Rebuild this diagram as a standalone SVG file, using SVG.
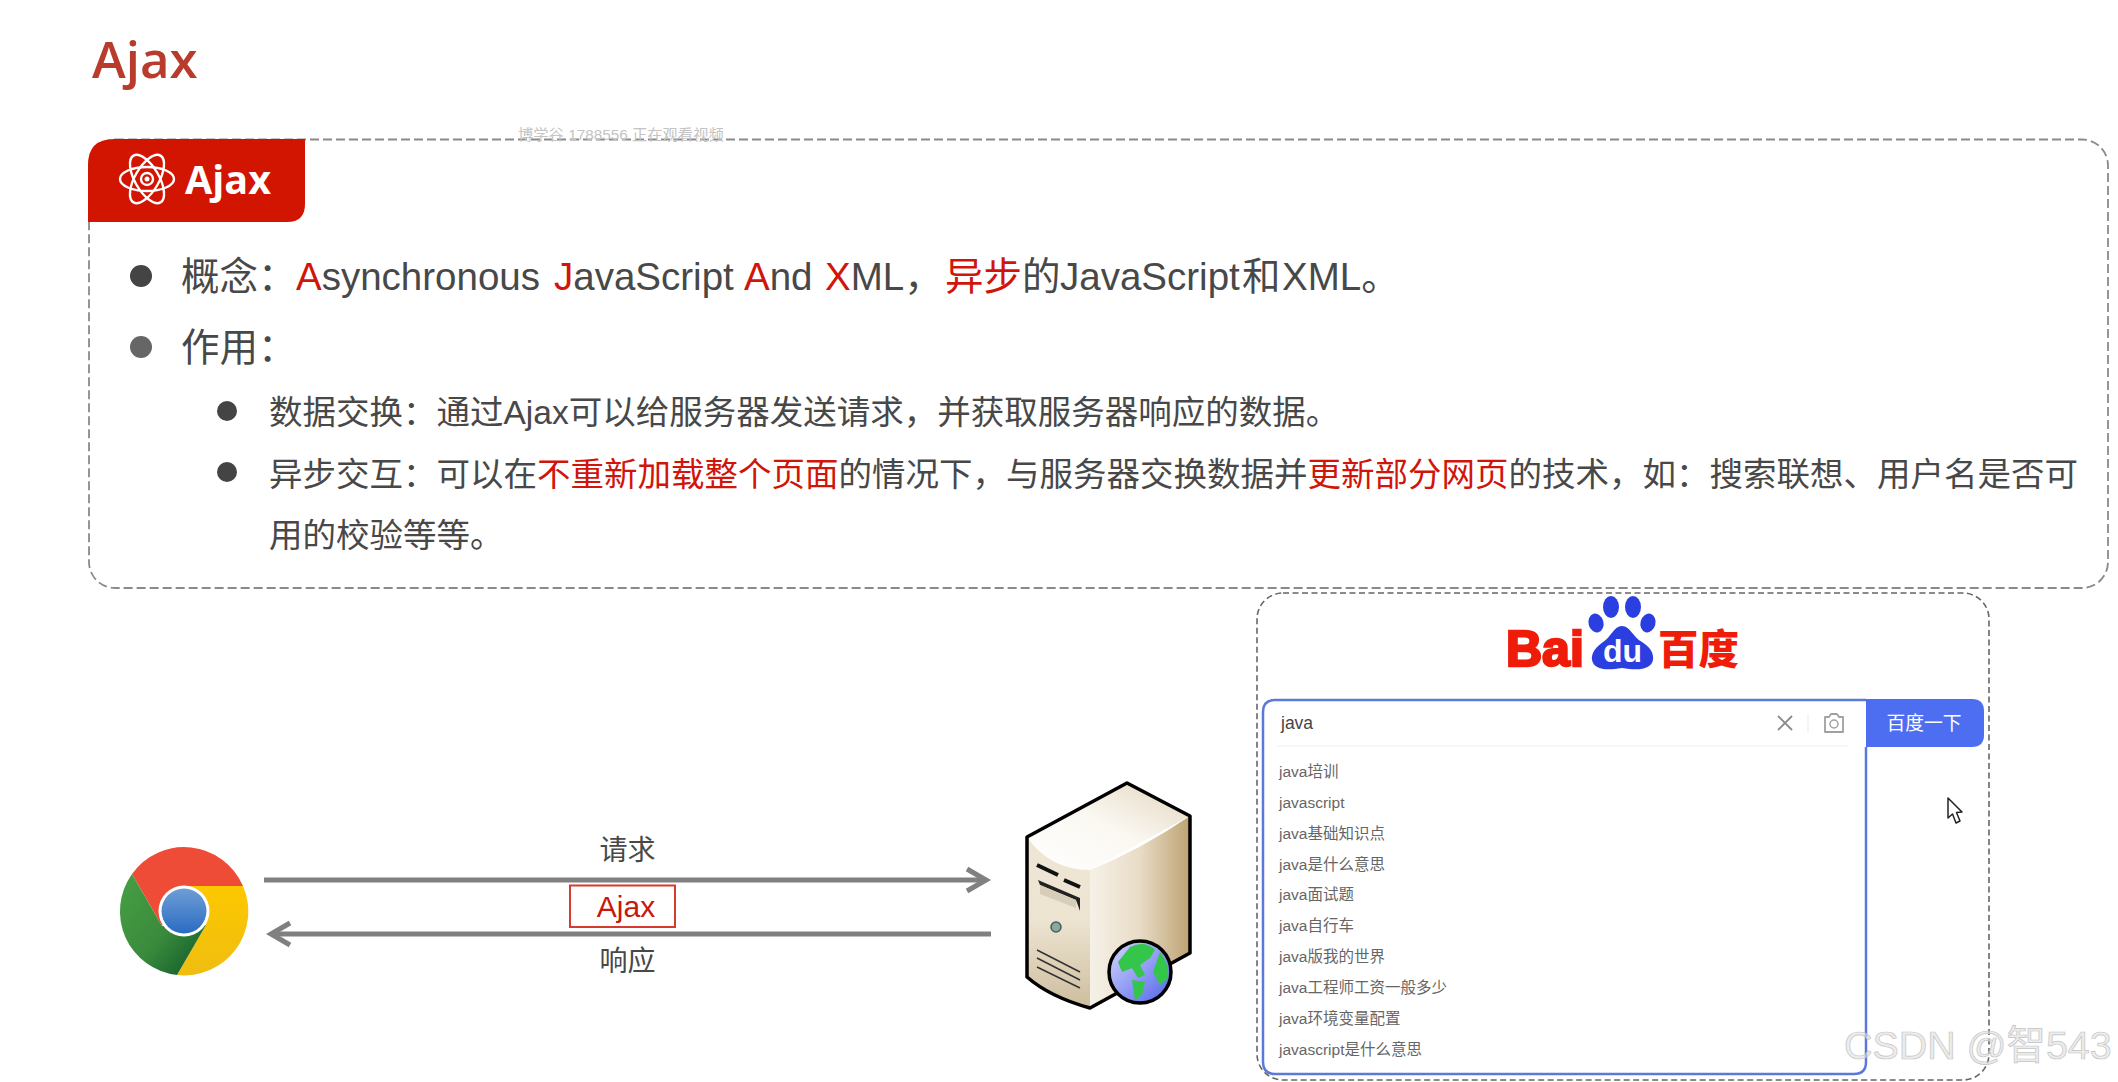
<svg xmlns="http://www.w3.org/2000/svg" width="2118" height="1082" viewBox="0 0 2118 1082">
<style>
text{font-family:"Liberation Sans","Noto Sans CJK SC",sans-serif}
.t1{font-size:38.500px;fill:#484848}
.t2{font-size:33.500px;fill:#484848}
.r{fill:#d0150a}
.li{font-size:15.500px;fill:#666}
.lbl{font-size:28px;fill:#484848;text-anchor:middle}
.ar{fill:none;stroke:#808080;stroke-width:5}
.vent{fill:none;stroke:#333;stroke-width:1.500}
.atom{fill:none;stroke:#fff;stroke-width:2.400}
.toe{fill:#2b3fe0}
</style>
<defs>
<marker id="head" markerUnits="userSpaceOnUse" markerWidth="30" markerHeight="30" refX="24" refY="15" orient="auto-start-reverse">
<polyline points="5,4 24,15 5,26" fill="none" stroke="#808080" stroke-width="5"/>
</marker>
<linearGradient id="gTop" x1="0" y1="1" x2="1" y2="0"><stop offset="0" stop-color="#fff"/><stop offset=".5" stop-color="#fbf8f2"/><stop offset="1" stop-color="#e2d5bd"/></linearGradient>
<linearGradient id="gLeft" x1="0" y1="0" x2="0" y2="1"><stop offset="0" stop-color="#efe6d6"/><stop offset=".5" stop-color="#ece3d0"/><stop offset="1" stop-color="#cdbd9e"/></linearGradient>
<linearGradient id="gRight" x1="0" y1="0" x2="1" y2="0"><stop offset="0" stop-color="#f6f1e8"/><stop offset=".5" stop-color="#e8dcc6"/><stop offset="1" stop-color="#bda272"/></linearGradient>
<linearGradient id="gGreen" x1="0" y1="0" x2="1" y2="1"><stop offset="0" stop-color="#47a044"/><stop offset=".55" stop-color="#3a8a3c"/><stop offset="1" stop-color="#0b5528"/></linearGradient>
<linearGradient id="gYellow" x1="0" y1="0" x2="0" y2="1"><stop offset="0" stop-color="#fdc800"/><stop offset="1" stop-color="#efbd10"/></linearGradient>
<linearGradient id="gBlue" x1="0" y1="0" x2="0" y2="1"><stop offset="0" stop-color="#6f9dd6"/><stop offset="1" stop-color="#2a6cc2"/></linearGradient>
<linearGradient id="gGlobe" x1="0" y1="0" x2="1" y2="1"><stop offset="0" stop-color="#d8d8ff"/><stop offset="1" stop-color="#4f63e8"/></linearGradient>
</defs>
<rect width="2118" height="1082" fill="#fff"/>

<g id="title"><text x="92" y="78" font-size="51" font-weight="600" style="font-family:'Open Sans',sans-serif" fill="#b83b2c">Ajax</text></g>

<g id="panel">
<rect x="89" y="139.500" width="2019" height="448.500" rx="26" fill="none" stroke="#8a8a8a" stroke-width="1.800" stroke-dasharray="9 4"/>
<text x="518" y="140" font-size="15.300" fill="#c4c4c4">博学谷 1788556 正在观看视频</text>
</g>

<g id="tab">
<path d="M88,222V165Q88,139 114,139H305V204Q305,222 287,222Z" fill="#d21500"/>
<g class="atom">
<ellipse cx="147" cy="179" rx="27" ry="12"/>
<ellipse cx="147" cy="179" rx="27" ry="12" transform="rotate(60 147 179)"/>
<ellipse cx="147" cy="179" rx="27" ry="12" transform="rotate(-60 147 179)"/>
<circle cx="147" cy="179" r="6"/>
</g>
<circle cx="147" cy="179" r="2.500" fill="#fff"/>
<text x="185" y="193.500" font-size="39.500" font-weight="700" style="font-family:'Open Sans',sans-serif" fill="#fff">Ajax</text>
</g>

<g id="content">
<circle cx="141" cy="276" r="11" fill="#444"/>
<text class="t1" y="290"><tspan x="181">概念：</tspan><tspan x="296" class="r">A</tspan><tspan>synchronous</tspan><tspan x="554" class="r">J</tspan><tspan>avaScript</tspan><tspan x="744" class="r">A</tspan><tspan>nd</tspan><tspan x="825" class="r">X</tspan><tspan>ML，</tspan><tspan x="945" class="r">异步</tspan><tspan x="1022">的</tspan><tspan x="1060">JavaScript</tspan><tspan x="1242">和</tspan><tspan x="1282">XML。</tspan></text>
<circle cx="141" cy="347" r="11" fill="#666"/>
<text class="t1" x="181" y="361" fill="#555">作用：</text>
<circle cx="227" cy="411" r="10" fill="#444"/>
<text class="t2" x="269" y="424">数据交换：通过Ajax可以给服务器发送请求，并获取服务器响应的数据。</text>
<circle cx="227" cy="472" r="10" fill="#444"/>
<text class="t2" x="269" y="486">异步交互：可以在<tspan class="r">不重新加载整个页面</tspan>的情况下，与服务器交换数据并<tspan class="r">更新部分网页</tspan>的技术，如：搜索联想、用户名是否可</text>
<text class="t2" x="269" y="547">用的校验等等。</text>
</g>

<g id="browser">
<path d="M243,886A64,64 0 0 0 132,874L162,926L184,886Z" fill="#ef4c37"/>
<path d="M243,886A64,64 0 0 1 177,975L206,925L184,886Z" fill="url(#gYellow)"/>
<path d="M132,874A64,64 0 0 0 177,975L206,925L162,926Z" fill="url(#gGreen)"/>
<circle cx="184" cy="911" r="25.500" fill="#fff"/>
<circle cx="184" cy="911" r="22.500" fill="url(#gBlue)"/>
</g>

<g id="connectors">
<line class="ar" x1="264" y1="880" x2="986" y2="880" marker-end="url(#head)"/>
<line class="ar" x1="991" y1="934" x2="271" y2="934" marker-end="url(#head)"/>
</g>

<g id="label-request"><text class="lbl" x="627.500" y="860">请求</text></g>
<g id="label-ajax">
<rect x="570" y="885.500" width="105" height="41.500" fill="#fff" stroke="#d63b30" stroke-width="2"/>
<text x="626" y="917" font-size="30" text-anchor="middle" fill="#c8170d">Ajax</text>
</g>
<g id="label-response"><text class="lbl" x="627.500" y="971">响应</text></g>

<g id="server">
<path d="M1027,837L1127,783L1190,816L1090,870Q1050,870 1027,837Z" fill="url(#gTop)"/>
<path d="M1027,837Q1050,870 1090,870V1008Q1050,997 1027,977Z" fill="url(#gLeft)"/>
<path d="M1090,870Q1140,850 1190,816V953L1090,1008Z" fill="url(#gRight)"/>
<path d="M1027,837L1127,783L1190,816V953L1090,1008Q1050,997 1027,977Z" fill="none" stroke="#000" stroke-width="3.500" stroke-linejoin="round"/>
<path d="M1037,865L1058,875" fill="none" stroke="#111" stroke-width="4"/>
<path d="M1064,880L1080,887" fill="none" stroke="#111" stroke-width="4"/>
<path d="M1038,880L1080,898V911L1076,900L1040,885Z" fill="#222"/>
<path d="M1040,885L1076,900V908L1040,894Z" fill="#d8cdb8"/>
<circle cx="1056" cy="927" r="5" fill="#7fb09a" stroke="#556" stroke-width="1.500"/>
<path class="vent" d="M1037,950L1080,972M1037,958L1080,980M1037,967L1080,988"/>
<circle cx="1140" cy="972" r="31" fill="url(#gGlobe)" stroke="#000" stroke-width="3.500"/>
<path d="M1130,947Q1145,940 1155,950L1150,958L1140,965L1145,975L1138,978L1132,968L1122,972L1118,962Z" fill="#33c64a"/>
<path d="M1160,952Q1170,965 1168,978L1160,985L1153,972Z" fill="#33c64a"/>
<path d="M1132,980L1145,982L1142,995L1135,1000Z" fill="#33c64a"/>
</g>

<g id="baidu">
<rect x="1257" y="593" width="732" height="487" rx="26" fill="none" stroke="#666" stroke-width="1.600" stroke-dasharray="6 3.500"/>
<g id="baidu-logo">
<text x="1506" y="666" font-size="50" font-weight="700" fill="#ef1c0a" stroke="#ef1c0a" stroke-width="2.500">Bai</text>
<ellipse class="toe" cx="1611" cy="607" rx="8" ry="11"/>
<ellipse class="toe" cx="1633" cy="607" rx="8" ry="11"/>
<ellipse class="toe" cx="1596" cy="623" rx="7.500" ry="9.500" transform="rotate(-15 1596 623)"/>
<ellipse class="toe" cx="1648" cy="623" rx="7.500" ry="9.500" transform="rotate(15 1648 623)"/>
<path class="toe" d="M1622,626C1630,626 1633,637 1642,642C1650,647 1654,653 1653,660C1651,669 1640,671 1622,668C1604,671 1594,669 1592,660C1591,653 1596,647 1603,642C1611,637 1614,626 1622,626Z"/>
<text x="1622.500" y="662" font-size="32" font-weight="700" text-anchor="middle" fill="#fff">du</text>
<text x="1658" y="664" font-size="40.500" font-weight="900" fill="#ef1c0a" style="font-family:'Noto Sans CJK SC',sans-serif">百度</text>
</g>
<g id="search">
<path d="M1866,747V1062Q1866,1074 1854,1074H1275Q1263,1074 1263,1062V712Q1263,700 1275,700H1866" fill="#fff" stroke="#5b79d8" stroke-width="2.500"/>
<path d="M1866,699H1972Q1984,699 1984,711V735Q1984,747 1972,747H1866Z" fill="#4e6ef2"/>
<text x="1924" y="730" font-size="18.800" text-anchor="middle" fill="#fff">百度一下</text>
<line x1="1277" y1="746" x2="1848" y2="746" stroke="#f4f4f4" stroke-width="1.500"/>
<text x="1281" y="729" font-size="17.500" fill="#444">java</text>
<path d="M1778,716L1792,730M1792,716L1778,730" fill="none" stroke="#8c8c8c" stroke-width="1.800"/>
<line x1="1808" y1="714" x2="1808" y2="732" stroke="#f0f0f0" stroke-width="1.500"/>
<path d="M1825,717H1829L1831,714H1837L1839,717H1843V732H1825Z" fill="none" stroke="#a0a0a0" stroke-width="1.800" stroke-linejoin="round"/>
<circle cx="1834" cy="724" r="4" fill="none" stroke="#a0a0a0" stroke-width="1.500"/>
<g id="suggestions">
<text class="li" x="1279" y="777">java培训</text>
<text class="li" x="1279" y="808">javascript</text>
<text class="li" x="1279" y="839">java基础知识点</text>
<text class="li" x="1279" y="870">java是什么意思</text>
<text class="li" x="1279" y="900">java面试题</text>
<text class="li" x="1279" y="931">java自行车</text>
<text class="li" x="1279" y="962">java版我的世界</text>
<text class="li" x="1279" y="993">java工程师工资一般多少</text>
<text class="li" x="1279" y="1024">java环境变量配置</text>
<text class="li" x="1279" y="1055">javascript是什么意思</text>
</g>
</g>
<path id="cursor" d="M1948,798V818L1952.500,814L1956,823L1960,821L1956.500,812.500L1962,812Z" fill="#fff" stroke="#222" stroke-width="1.500" stroke-linejoin="round"/>
</g>

<g id="watermark"><text x="1844" y="1059" font-size="39.400" fill="#e0e0e0" fill-opacity=".6" stroke="#c4c4c4" stroke-width=".7">CSDN @智543</text></g>
</svg>
